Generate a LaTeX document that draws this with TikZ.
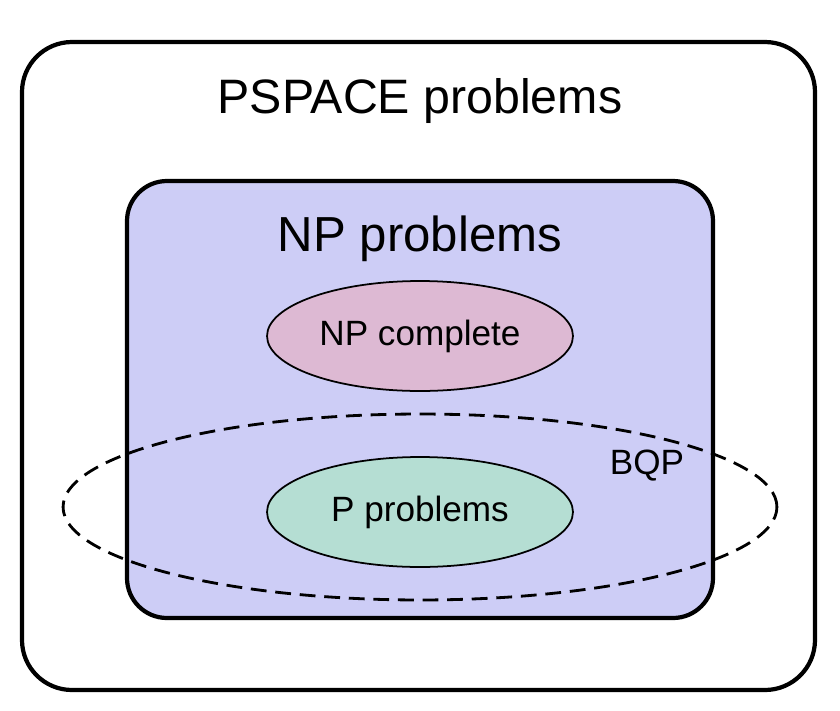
\documentclass[tikz,border=0pt]{standalone}
\usepackage{fontspec}
\setmainfont{Liberation Sans}
\usetikzlibrary{shapes.geometric,positioning}
\definecolor{npblue}{HTML}{CDCDF6}
\definecolor{npcpink}{HTML}{DDB9D3}
\definecolor{pgreen}{HTML}{B5DED3}
\tikzstyle{setbox} = [draw=black, line width=2.4pt]
\tikzstyle{blob} = [ellipse, draw=black, line width=1pt, minimum width=6.12cm, minimum height=2.2cm, font=\fontsize{20}{24}\selectfont]
\begin{document}
\begin{tikzpicture}[x=0.02cm,y=-0.02cm]
\useasboundingbox (0,0) rectangle (840,711);
\draw [setbox, rounded corners=1cm] (22,42) rectangle (815,690);
\node (pspace) at (420,101) {\fontsize{27.5}{32}\selectfont PSPACE problems};
\draw [setbox, fill=npblue, rounded corners=0.8cm] (127,181) rectangle (713,618);
\node (np) at (420,239) {\fontsize{28}{32}\selectfont NP problems};
\node [blob, fill=npcpink] (npc) at (420,336) {NP complete};
\node [blob, fill=pgreen] (p) at (420,512) {P problems};
\node [ellipse, draw=black, line width=1.6pt, dash pattern=on 9pt off 5pt, minimum width=14.28cm, minimum height=3.72cm] (bqp) at (420,507) {};
\node (bqplabel) at (647,466) {\fontsize{20}{24}\selectfont BQP};
\end{tikzpicture}
\end{document}
